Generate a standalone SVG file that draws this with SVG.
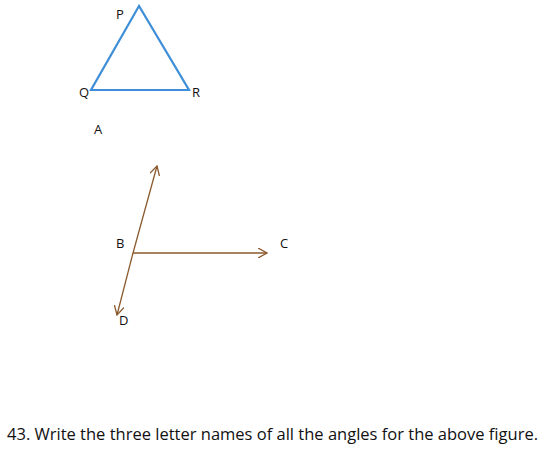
<svg xmlns="http://www.w3.org/2000/svg" width="545" height="450" viewBox="0 0 545 450">
<style>
text{font-family:"Open Sans","Liberation Sans",sans-serif;fill:#111;}
.lbl{font-size:13px;}
.tri{fill:none;stroke:#3f8fd8;stroke-width:2.2;stroke-linejoin:miter;}
.ray{stroke:#8a5a2e;stroke-width:1.3;fill:none;}
</style>
<defs>
<marker id="arr" viewBox="0 0 10 10" refX="9" refY="5" markerWidth="10" markerHeight="10" markerUnits="userSpaceOnUse" orient="auto-start-reverse">
<path d="M0,0 L9,5 L0,10" fill="none" stroke="#8a5a2e" stroke-width="1.3"/>
</marker>
</defs>
<rect width="545" height="450" fill="#fff"/>
<g id="triangle">
<polygon class="tri" points="139,6 91,90 189,90"/>
</g>
<g id="label-P"><text class="lbl" x="116" y="19">P</text></g>
<g id="label-Q"><text class="lbl" x="79" y="97">Q</text></g>
<g id="label-R"><text class="lbl" x="192" y="97">R</text></g>
<g id="label-A"><text class="lbl" x="94" y="134">A</text></g>
<g id="connectors">
<line class="ray" x1="133" y1="253" x2="157" y2="166" marker-end="url(#arr)"/>
<line class="ray" x1="133" y1="253" x2="117" y2="315" marker-end="url(#arr)"/>
<line class="ray" x1="133" y1="253" x2="267" y2="253" marker-end="url(#arr)"/>
</g>
<g id="label-B"><text class="lbl" x="116" y="248">B</text></g>
<g id="label-C"><text class="lbl" x="280" y="248">C</text></g>
<g id="label-D"><text class="lbl" x="119" y="325">D</text></g>
<text x="7" y="440" font-size="15.5" textLength="531" lengthAdjust="spacingAndGlyphs">43. Write the three letter names of all the angles for the above figure.</text>
</svg>
